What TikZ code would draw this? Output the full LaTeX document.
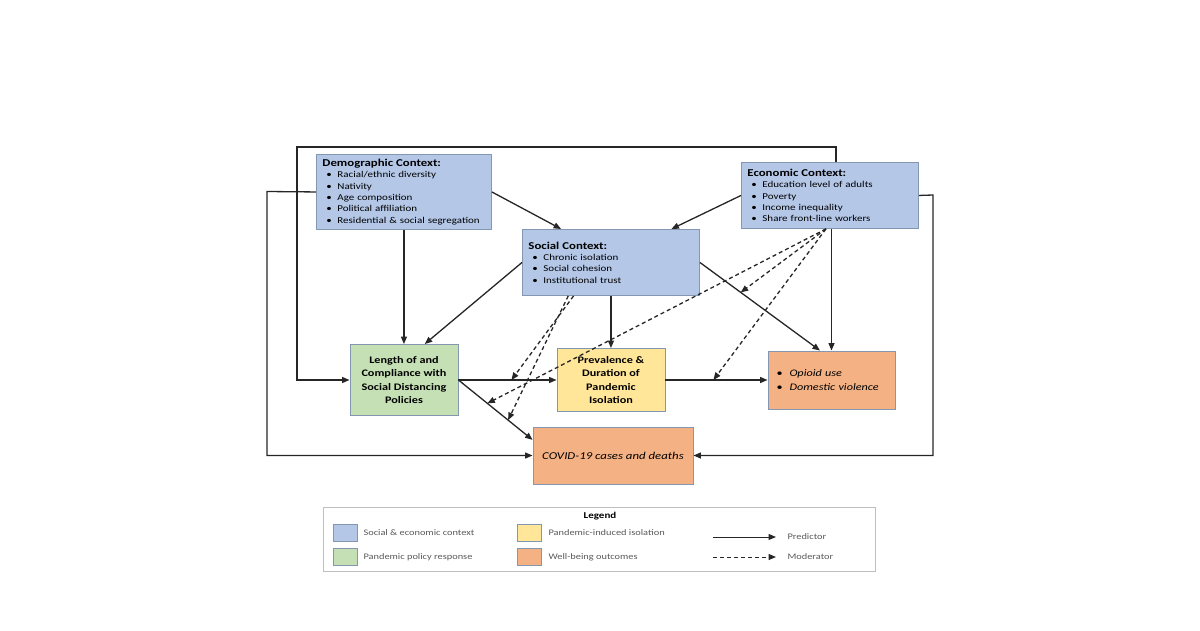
\documentclass[tikz,border=0pt]{standalone}
\usepackage{fontspec}
\setmainfont{Carlito}[FakeStretch=1.22]
\usetikzlibrary{arrows.meta, calc}

\definecolor{ctxblue}{HTML}{B4C7E7}
\definecolor{polgreen}{HTML}{C5E0B4}
\definecolor{isoyellow}{HTML}{FFE699}
\definecolor{outorange}{HTML}{F4B183}
\definecolor{boxline}{HTML}{8497B0}
\definecolor{arrline}{HTML}{262626}
\definecolor{legline}{HTML}{BFBFBF}
\definecolor{legtext}{HTML}{595959}

\newcommand{\bitem}[1]{\hspace*{4pt}\makebox[11pt][l]{\textbullet}#1}

\begin{document}
\begin{tikzpicture}[x=1pt, y=-1pt,
    box/.style={draw=boxline, line width=0.9pt, inner sep=0pt},
    ctx/.style={box, fill=ctxblue, anchor=north west, align=left, inner xsep=6pt,
        font=\fontsize{9}{11.3}\selectfont},
    mid/.style={box, align=center, font=\bfseries\fontsize{10}{13.5}\selectfont},
    pred/.style={draw=arrline, line width=1.3pt, -{Triangle[length=7.5pt,width=6pt]}},
    mod/.style={pred, dash pattern=on 4pt off 3pt},
    swatch/.style={draw=boxline, line width=0.6pt, minimum width=24pt, minimum height=17pt},
    legtext/.style={anchor=west, text=legtext, font=\fontsize{8.5}{10}\selectfont}]
    \useasboundingbox (0,0) rectangle (1200,630);

    % context boxes
    \node[ctx, text width=163pt, minimum height=75pt] (demo) at (316,154)
        {{\bfseries\fontsize{10.5}{11.3}\selectfont Demographic Context:}\\
         \bitem{Racial/ethnic diversity}\\ \bitem{Nativity}\\ \bitem{Age composition}\\
         \bitem{Political affiliation}\\ \bitem{Residential \& social segregation}};
    \node[ctx, text width=165pt, minimum height=66pt] (econ) at (741,162)
        {{\bfseries\fontsize{10.5}{11.3}\selectfont Economic Context:}\\
         \bitem{Education level of adults}\\ \bitem{Poverty}\\
         \bitem{Income inequality}\\ \bitem{Share front-line workers}};
    \node[ctx, text width=165pt, minimum height=66pt] (social) at (522,229)
        {{\bfseries\fontsize{10.5}{11.3}\selectfont Social Context:}\\
         \bitem{Chronic isolation}\\ \bitem{Social cohesion}\\ \bitem{Institutional trust}};

    % policy, isolation and outcome boxes
    \node[mid, fill=polgreen, minimum width=108pt, minimum height=71pt] (length) at (404,380)
        {Length of and\\ Compliance with\\ Social Distancing\\ Policies};
    \node[mid, fill=isoyellow, minimum width=108pt, minimum height=63pt] (prev) at (611,380)
        {Prevalence \&\\ Duration of\\ Pandemic\\ Isolation};
    \node[box, fill=outorange, text width=118pt, inner xsep=4.5pt, minimum height=58pt, align=left,
        font=\itshape\fontsize{10}{14.5}\selectfont] (opioid) at (831.5,380)
        {\hspace*{4pt}\makebox[13pt][l]{\upshape\textbullet}Opioid use\\
         \hspace*{4pt}\makebox[13pt][l]{\upshape\textbullet}Domestic violence};
    \node[box, fill=outorange, minimum width=160pt, minimum height=57pt,
        font=\itshape\fontsize{10.5}{12}\selectfont] (covid) at (613,455.5)
        {COVID-19 cases and deaths};

    % predictors
    \coordinate (tl) at (297,147);
    \coordinate (ol) at (267,191.5);
    \coordinate (or) at (933,195);
    \draw[pred] (demo.east) -- ($(social.north west)!0.22!(social.north east)$);
    \draw[pred] (econ.west) -- ($(social.north west)!0.84!(social.north east)$);
    \draw[pred] (demo.south) -- (demo.south |- length.north);
    \draw[pred] (social.west) -- ($(length.north west)!0.69!(length.north east)$);
    \draw[pred] (social.south) -- (social.south |- prev.north);
    \draw[pred] (social.east) -- coordinate[pos=0.34] (mD) ($(opioid.north west)!0.41!(opioid.north east)$);
    \draw[pred] (opioid.north |- econ.south) -- (opioid.north);
    \draw[pred] (length.east) -- coordinate[pos=0.54] (mA) (prev.west);
    \draw[pred] (prev.east) -- coordinate[pos=0.47] (mE) (opioid.west);
    \draw[pred] (length.east) -- coordinate[pos=0.67] (mB) coordinate[pos=0.39] (mC)
        ($(covid.north west)!0.23!(covid.south west)$);
    \draw[pred] ([xshift=6pt]econ.north) |- (tl) |- (length.west);
    \draw[pred] (demo.west) -- (ol) |- (covid.west);
    \draw[pred] (econ.east) -- (or) |- (covid.east);

    % moderators
    \draw[mod] ($(social.south west)!0.29!(social.south east)$) -- (mA);
    \draw[mod] ($(social.south west)!0.26!(social.south east)$) -- (mB);
    \draw[mod] ([xshift=-4pt]econ.south) -- (mC);
    \draw[mod] ([xshift=-4pt]econ.south) -- (mD);
    \draw[mod] ([xshift=-4pt]econ.south) -- (mE);

    % legend
    \node[draw=legline, line width=0.8pt, anchor=north west, minimum width=552pt, minimum height=64pt] (legend) at (323,507) {};
    \node[font=\bfseries\fontsize{9}{10}\selectfont] (legtitle) at (600,516) {Legend};
    \node[swatch, fill=ctxblue] (sw1) at (345,533) {};
    \node[swatch, fill=polgreen] (sw2) at (345,557) {};
    \node[swatch, fill=isoyellow] (sw3) at (529,533) {};
    \node[swatch, fill=outorange] (sw4) at (529,557) {};
    \node[legtext] (lt1) at (360,533) {Social \& economic context};
    \node[legtext] (lt2) at (360,557) {Pandemic policy response};
    \node[legtext] (lt3) at (545,533) {Pandemic-induced isolation};
    \node[legtext] (lt4) at (545,557) {Well-being outcomes};
    \coordinate (pa) at (713,537);
    \coordinate (pb) at (776,537);
    \coordinate (ma) at (713,557);
    \coordinate (mb) at (776,557);
    \node[legtext] (lt5) at (784,537) {Predictor};
    \node[legtext] (lt6) at (784,557) {Moderator};
    \draw[pred, line width=1pt] (pa) -- (pb);
    \draw[mod, line width=1pt] (ma) -- (mb);
\end{tikzpicture}
\end{document}
